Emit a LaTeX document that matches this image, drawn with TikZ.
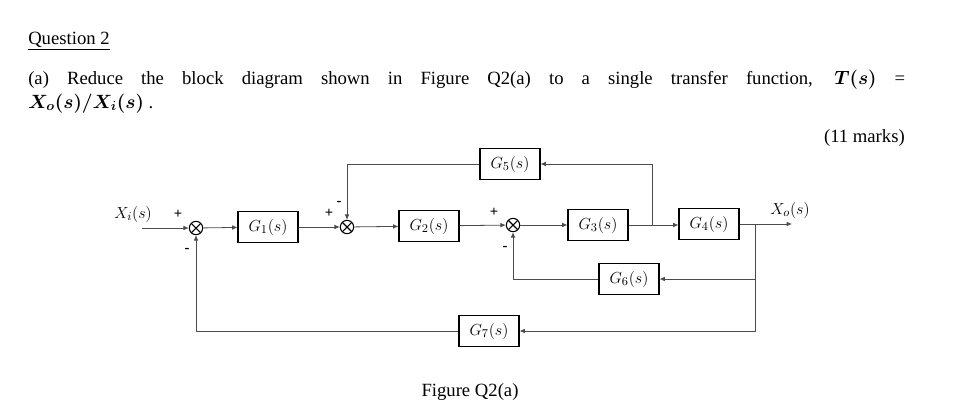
\documentclass[tikz,border=0pt]{standalone}
\usepackage{amsmath}
\usepackage{fontspec}
\setmainfont{Liberation Serif}
\usetikzlibrary{arrows.meta}
\begin{document}
\begin{tikzpicture}[x=0.75pt,y=-0.75pt,
  blk/.style={draw,thick,minimum width=45pt,minimum height=23pt,inner sep=1pt,font=\fontsize{13}{15}\selectfont},
  sumj/.style={draw,thick,circle,minimum size=10pt,inner sep=0pt,path picture={\draw (path picture bounding box.north west)--(path picture bounding box.south east) (path picture bounding box.north east)--(path picture bounding box.south west);}},
  wire/.style={draw=black!70,line width=0.6pt},
  arr/.style={wire,-{Latex[length=4pt,width=3.5pt]}},
  sg/.style={font=\fontsize{11}{12}\selectfont\bfseries,inner sep=0pt},
  txt/.style={font=\fontsize{14}{17}\selectfont,inner sep=0pt}]
\useasboundingbox[fill=white] (0,0) rectangle (969,415);
\node[txt,anchor=base west] (q) at (28,44) {\underline{Question 2}};
\node[txt,anchor=base west] (l1) at (28,84) {\makebox[657.75pt][s]{(a) Reduce the block diagram shown in Figure Q2(a) to a single transfer function, $\boldsymbol{T(s)}$ =}};
\node[txt,anchor=base west] (l2) at (28,108) {$\boldsymbol{X_o(s)/X_i(s)}$ .};
\node[txt,anchor=base east] (mk) at (905,142) {(11 marks)};
\node[txt,anchor=base] (fig) at (470,396) {Figure Q2(a)};
% blocks
\node[sumj] (s1) at (196,228) {};
\node[sumj] (s2) at (347,227) {};
\node[sumj] (s3) at (513,225) {};
\node[blk] (g1) at (268,227) {$G_1(s)$};
\node[blk] (g2) at (429,226) {$G_2(s)$};
\node[blk] (g3) at (598,225) {$G_3(s)$};
\node[blk] (g4) at (709,224) {$G_4(s)$};
\node[blk] (g5) at (510,164) {$G_5(s)$};
\node[blk] (g6) at (629,279) {$G_6(s)$};
\node[blk] (g7) at (489,331) {$G_7(s)$};
\coordinate (in) at (142,228);
\coordinate (b1) at (652,224);
\coordinate (b2) at (755,224);
\coordinate (out) at (792,224);
\node[font=\fontsize{13}{15}\selectfont] (xi) at (133,214) {$X_i(s)$};
\node[font=\fontsize{13}{15}\selectfont] (xo) at (790,210) {$X_o(s)$};
% wires
\draw[arr] (in) -- (s1);
\draw[arr] (s1) -- (g1);
\draw[arr] (g1) -- (s2);
\draw[arr] (s2) -- (g2);
\draw[arr] (g2) -- (s3);
\draw[arr] (s3) -- (g3);
\draw[arr] (g3.east) -- (g4.west|-g3.east);
\draw[arr] (g4) -- (out);
\draw[arr] (b1|-g3.east) |- (g5);
\draw[arr] (g5) -| (s2);
\draw[arr] (b2) |- (g6);
\draw[arr] (g6) -| (s3);
\draw[arr] (b2) |- (g7);
\draw[arr] (g7) -| (s1);
% signs
\node[sg] (p1) at (178,214) {+};
\node[sg] (m1) at (187,250) {-};
\node[sg] (p2) at (329,213) {+};
\node[sg] (m2) at (339,203) {-};
\node[sg] (p3) at (494,212) {+};
\node[sg] (m3) at (505,248) {-};
\end{tikzpicture}
\end{document}
